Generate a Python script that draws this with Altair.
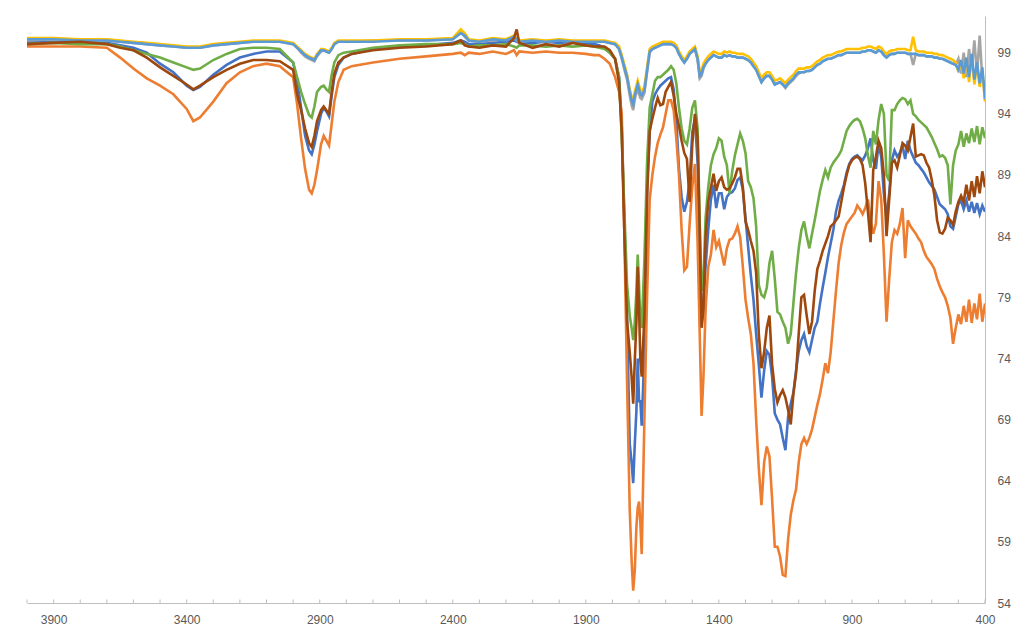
import altair as alt
import pandas as pd

# wavenumber grid (cm-1), rows of 10
wn = [
    4000, 3900, 3800, 3700, 3650, 3600, 3550, 3500, 3450, 3400,
    3375, 3350, 3300, 3250, 3200, 3150, 3100, 3050, 3000, 2985,
    2970, 2955, 2940, 2930, 2920, 2910, 2895, 2885, 2875, 2865,
    2855, 2845, 2830, 2810, 2780, 2700, 2600, 2500, 2400, 2370,
    2355, 2340, 2300, 2250, 2200, 2170, 2160, 2150, 2100, 2050,
    2000, 1950, 1900, 1870, 1850, 1830, 1810, 1790, 1775, 1765,
    1755, 1745, 1735, 1728, 1722, 1716, 1710, 1705, 1700, 1695,
    1690, 1680, 1670, 1660, 1650, 1640, 1630, 1620, 1610, 1600,
    1590, 1580, 1570, 1560, 1550, 1540, 1530, 1520, 1510, 1500,
    1490, 1480, 1472, 1465, 1458, 1450, 1440, 1430, 1420, 1410,
    1400, 1390, 1380, 1370, 1360, 1350, 1340, 1330, 1320, 1310,
    1300, 1290, 1280, 1270, 1260, 1250, 1240, 1230, 1220, 1210,
    1200, 1190, 1180, 1170, 1160, 1150, 1140, 1130, 1120, 1110,
    1100, 1090, 1080, 1070, 1060, 1050, 1040, 1030, 1020, 1010,
    1000, 990, 980, 970, 960, 950, 940, 930, 920, 910,
    900, 890, 880, 870, 860, 850, 840, 830, 820, 810,
    800, 790, 780, 770, 760, 750, 740, 730, 720, 710,
    700, 690, 680, 670, 660, 650, 640, 630, 620, 610,
    600, 590, 580, 570, 560, 550, 540, 530, 520, 510,
    500, 490, 480, 470, 460, 450, 440, 430, 420, 410,
    400,
]

blue = [
    99.9, 99.9, 99.9, 99.8, 99.6, 99.4, 99.0, 98.1, 97.4, 96.3,
    95.95, 96.2, 97.2, 98.0, 98.6, 98.9, 99.1, 99.1, 98.2, 96.7,
    94.5, 92.2, 91.0, 90.7, 91.5, 92.6, 94.0, 94.5, 94.2, 93.8,
    95.5, 97.0, 98.0, 98.6, 98.9, 99.3, 99.5, 99.6, 99.8, 100.0,
    99.9, 99.7, 99.7, 99.8, 99.9, 100.0, 99.9, 99.8, 99.8, 99.9,
    99.8, 99.9, 99.8, 99.7, 99.6, 99.4, 99.0, 98.5, 97.0, 93.0,
    85.0, 77.0, 67.0, 65.5, 63.8, 67.0, 69.7, 74.0, 70.5, 70.5,
    68.5, 74.5, 88.0, 92.5, 95.0, 95.6, 96.0, 96.3, 96.5, 96.7,
    96.9, 97.0, 96.0, 93.5, 89.5, 87.2, 86.0, 86.8, 88.5, 92.5,
    93.6, 90.0, 83.0, 76.8, 78.5, 81.5, 84.5, 87.0, 88.2, 86.3,
    87.5, 87.5, 86.2, 87.2, 87.5, 87.6, 87.9, 88.6, 88.8, 87.8,
    85.5, 83.1, 80.8, 78.8, 76.0, 73.5, 70.8, 73.0, 74.6, 74.3,
    72.5, 69.5, 69.0, 68.6, 67.5, 66.5, 69.2, 70.3, 71.2, 73.0,
    74.6, 75.5, 76.0, 75.0, 74.5, 75.5, 76.5, 77.0, 78.5, 79.8,
    81.0, 82.3, 83.4, 84.5, 86.0, 86.9, 87.5, 88.2, 89.2, 89.9,
    90.3, 90.5, 90.6, 90.4, 90.2, 90.6, 91.2, 92.0, 90.2, 89.5,
    91.5, 90.5, 87.5, 85.5, 87.5, 90.2, 91.0, 90.5, 90.8, 91.4,
    90.3, 91.8, 91.0, 90.5, 90.0, 89.8, 89.5, 89.2, 88.8, 88.4,
    88.1, 87.8, 87.2, 86.6, 86.4, 86.2, 85.8, 84.8, 84.6, 85.6,
    86.6, 86.9, 86.2, 86.9, 86.0, 86.8, 85.9, 86.7, 85.8, 86.5,
    86.0,
]

orange = [
    99.5, 99.5, 99.5, 99.4, 98.6, 97.7, 96.9, 96.3, 95.6, 94.4,
    93.4, 93.7, 95.0, 96.5, 97.4, 97.9, 98.1, 97.9, 97.0, 94.8,
    92.0, 89.5, 87.8, 87.5, 88.2, 89.4, 91.5, 92.2, 91.8, 91.4,
    93.2, 95.0, 96.6, 97.6, 97.9, 98.2, 98.5, 98.7, 98.9, 99.0,
    98.8, 99.0, 98.9, 99.1, 98.9, 99.2, 98.8, 99.1, 99.0, 99.1,
    99.0, 99.0, 98.9, 98.8, 98.8, 98.5, 98.1, 97.0, 95.8, 94.0,
    84.0, 72.0, 61.6, 57.5, 55.0, 56.7, 60.2, 61.8, 62.3, 60.5,
    58.0, 69.0, 79.0, 87.0, 89.0, 90.5, 91.6, 92.3, 92.9, 94.0,
    95.1, 95.1, 94.3, 92.0, 89.0, 84.5, 81.2, 81.5, 85.0, 88.0,
    89.9, 83.5, 76.0, 69.3, 72.5, 78.0, 81.5, 82.5, 84.5, 83.1,
    83.6, 82.6, 81.6, 83.0, 83.7, 83.8, 84.2, 84.8, 83.9, 81.5,
    78.8, 77.3, 76.0, 73.6, 69.0, 65.0, 62.0, 65.5, 66.8, 66.0,
    62.5, 58.6, 58.6, 57.8, 56.3, 56.2, 59.2, 61.2, 62.4, 63.3,
    65.5, 67.0, 67.5, 67.0, 67.5, 68.2, 69.2, 70.2, 71.1, 72.3,
    73.6, 72.8, 74.5, 77.0, 79.5, 81.8, 83.3, 84.3, 85.0, 85.3,
    85.6, 85.9, 86.5, 86.2, 85.8, 86.3, 87.0, 85.3, 84.2, 85.0,
    88.5, 87.0, 82.5, 77.0, 80.5, 83.5, 84.5, 84.2, 85.0, 86.3,
    82.2, 85.3, 84.8, 84.5, 84.2, 83.8, 83.5, 82.8, 82.3, 82.0,
    81.7, 81.3, 80.5, 79.9, 79.4, 79.0, 78.3, 77.3, 75.2, 76.5,
    77.6, 76.8, 78.3, 77.0, 78.8, 76.9, 78.5, 77.2, 79.3, 77.0,
    78.5,
]

gray = [
    100.0, 100.1, 100.0, 100.0, 99.9, 99.8, 99.7, 99.6, 99.5, 99.4,
    99.4, 99.4, 99.6, 99.7, 99.8, 99.9, 99.9, 99.9, 99.7, 99.4,
    99.0, 98.7, 98.5, 98.4, 98.3, 98.7, 99.1, 99.2, 99.1, 99.0,
    99.3, 99.7, 99.9, 99.9, 99.9, 100.0, 100.0, 100.0, 100.1, 100.7,
    100.3, 100.0, 99.9, 100.0, 100.1, 100.2, 100.0, 99.9, 100.0, 99.9,
    100.0, 99.9, 99.9, 99.9, 99.9, 99.9, 99.8, 99.7, 99.3, 98.5,
    97.6, 96.8, 95.5, 94.7, 94.3, 95.2, 95.8, 96.0, 95.6, 95.3,
    95.2, 95.7, 97.4, 99.0, 99.3, 99.4, 99.5, 99.6, 99.7, 99.7,
    99.7, 99.7, 99.6, 99.4, 98.9, 98.5, 98.2, 98.5, 98.9, 99.1,
    99.3, 98.4, 96.9, 97.1, 97.7, 98.1, 98.4, 98.6, 98.8, 98.7,
    98.6, 98.6, 98.8, 98.7, 98.8, 98.7, 98.7, 98.6, 98.6, 98.6,
    98.5, 98.4, 98.2, 97.9, 97.6, 97.1, 96.6, 96.9, 97.1, 97.1,
    96.8, 96.4, 96.5, 96.6, 96.4, 96.1, 96.4, 96.6, 96.8, 97.1,
    97.3, 97.4, 97.4, 97.5, 97.5, 97.6, 97.8, 98.0, 98.1, 98.3,
    98.4, 98.5, 98.5, 98.6, 98.7, 98.8, 98.8, 98.9, 99.0, 99.0,
    99.0, 99.0, 99.0, 99.0, 99.1, 99.1, 99.2, 99.2, 99.1, 99.0,
    99.2, 99.1, 98.8, 98.6, 98.8, 98.9, 98.9, 99.0, 99.0, 99.0,
    99.0, 98.9, 98.9, 98.0, 98.9, 98.8, 98.8, 98.8, 98.7, 98.7,
    98.7, 98.6, 98.6, 98.5, 98.5, 98.4, 98.3, 98.2, 98.1, 98.0,
    98.5, 97.3, 99.0, 97.0, 99.3, 97.6, 100.0, 97.2, 100.4, 96.8,
    96.5,
]

yellow = [
    100.2, 100.2, 100.1, 100.1, 100.0, 99.9, 99.8, 99.7, 99.6, 99.5,
    99.5, 99.5, 99.7, 99.8, 99.9, 100.0, 100.0, 100.0, 99.8, 99.5,
    99.2, 98.9, 98.7, 98.6, 98.5, 98.9, 99.3, 99.3, 99.2, 99.1,
    99.4, 99.8, 100.0, 100.0, 100.0, 100.0, 100.1, 100.1, 100.2, 100.9,
    100.6, 100.1, 100.0, 100.2, 100.1, 100.4, 100.2, 100.0, 100.1, 100.0,
    100.1, 100.0, 100.0, 100.0, 100.0, 100.0, 99.9, 99.8, 99.5, 98.8,
    98.0, 97.2, 96.0, 95.4, 95.1, 95.8, 96.3, 96.7, 96.3, 95.9,
    95.8, 96.2, 97.8, 99.3, 99.5, 99.6, 99.7, 99.8, 99.9, 99.9,
    99.9, 99.9, 99.8, 99.6, 99.1, 98.7, 98.4, 98.7, 99.1, 99.3,
    99.5, 98.7, 97.4, 97.6, 98.1, 98.4, 98.7, 98.9, 99.1, 99.0,
    98.9, 98.9, 99.1, 99.0, 99.1, 99.0, 99.0, 98.9, 98.9, 98.9,
    98.8, 98.7, 98.5, 98.2, 97.9, 97.4, 96.9, 97.2, 97.4, 97.4,
    97.1, 96.7, 96.8, 96.9, 96.7, 96.5, 96.8, 97.0, 97.2, 97.5,
    97.7, 97.7, 97.7, 97.8, 97.8, 97.9, 98.1, 98.3, 98.4, 98.6,
    98.7, 98.8, 98.8, 98.9, 99.0, 99.1, 99.1, 99.2, 99.3, 99.3,
    99.3, 99.3, 99.3, 99.3, 99.4, 99.4, 99.5, 99.5, 99.4, 99.3,
    99.5, 99.4, 99.1, 98.9, 99.1, 99.2, 99.2, 99.3, 99.3, 99.3,
    99.3, 99.2, 99.2, 100.3, 99.2, 99.1, 99.1, 99.1, 99.0, 99.0,
    99.0, 98.9, 98.9, 98.8, 98.8, 98.7, 98.6, 98.5, 98.4, 98.2,
    97.4, 98.3, 96.9, 98.5, 96.6, 98.7, 96.4, 98.0, 96.2, 97.5,
    95.0,
]

lightblue = [
    100.1, 100.1, 100.0, 100.0, 99.9, 99.8, 99.7, 99.6, 99.5, 99.4,
    99.4, 99.4, 99.6, 99.7, 99.8, 99.9, 99.9, 99.9, 99.7, 99.4,
    99.1, 98.8, 98.6, 98.5, 98.4, 98.8, 99.2, 99.2, 99.1, 99.0,
    99.3, 99.7, 99.9, 99.9, 99.9, 99.9, 100.0, 100.0, 100.1, 100.6,
    100.4, 100.0, 99.9, 100.1, 100.0, 100.3, 100.1, 99.9, 100.0, 99.9,
    100.0, 99.9, 99.9, 99.9, 99.9, 99.9, 99.8, 99.7, 99.3, 98.6,
    97.8, 97.0, 95.8, 95.1, 94.8, 95.5, 96.0, 96.4, 96.0, 95.6,
    95.5, 95.9, 97.5, 99.1, 99.3, 99.4, 99.5, 99.6, 99.7, 99.7,
    99.7, 99.7, 99.6, 99.4, 98.9, 98.5, 98.2, 98.5, 98.9, 99.1,
    99.3, 98.5, 97.1, 97.3, 97.8, 98.1, 98.4, 98.6, 98.8, 98.7,
    98.6, 98.6, 98.8, 98.7, 98.8, 98.7, 98.7, 98.6, 98.6, 98.6,
    98.5, 98.4, 98.2, 97.9, 97.6, 97.1, 96.6, 96.9, 97.1, 97.1,
    96.8, 96.4, 96.5, 96.6, 96.4, 96.2, 96.5, 96.7, 96.9, 97.2,
    97.4, 97.4, 97.4, 97.5, 97.5, 97.6, 97.8, 98.0, 98.1, 98.3,
    98.4, 98.5, 98.5, 98.6, 98.7, 98.8, 98.8, 98.9, 99.0, 99.0,
    99.0, 99.0, 99.0, 99.0, 99.1, 99.1, 99.2, 99.2, 99.1, 99.0,
    99.2, 99.1, 98.8, 98.6, 98.8, 98.9, 98.9, 99.0, 99.0, 99.0,
    99.0, 98.9, 98.9, 98.9, 98.9, 98.8, 98.8, 98.8, 98.7, 98.7,
    98.7, 98.6, 98.6, 98.5, 98.5, 98.4, 98.3, 98.2, 98.1, 98.0,
    97.6, 98.4, 97.3, 98.6, 97.0, 98.9, 96.8, 98.2, 96.5, 97.8,
    95.2,
]

green = [
    99.7, 99.8, 99.7, 99.7, 99.5, 99.2, 98.9, 98.6, 98.2, 97.8,
    97.6, 97.7, 98.4, 98.9, 99.3, 99.4, 99.4, 99.3, 98.2, 97.0,
    95.8, 94.8, 93.9, 93.7, 94.6, 95.8, 96.2, 96.3, 96.0, 95.8,
    97.2, 98.2, 98.8, 99.0, 99.1, 99.4, 99.6, 99.7, 99.7, 99.8,
    99.7, 99.5, 99.6, 99.6, 99.7, 99.5, 99.4, 99.6, 99.6, 99.5,
    99.6, 99.5, 99.6, 99.5, 99.4, 99.3, 99.0, 98.5, 97.0, 92.0,
    86.0, 80.0, 77.5, 76.5, 75.5, 77.0, 79.5, 82.5, 80.0, 76.8,
    76.5, 82.0, 90.0, 94.5, 95.6, 96.7, 97.0, 97.0, 97.2, 97.4,
    97.6, 97.9, 97.6, 96.5, 94.5, 92.8, 91.8, 91.5, 92.8, 94.5,
    95.1, 92.8, 85.0, 79.5, 80.5, 85.5, 88.0, 89.8, 90.7, 91.2,
    92.0, 91.8, 90.5, 89.8, 87.5, 89.3, 90.6, 91.5, 92.4, 91.8,
    90.8, 88.5, 88.0, 87.1, 84.8, 80.0, 79.2, 79.0, 79.8, 81.8,
    82.8, 80.5, 77.8, 77.6, 77.0, 76.5, 75.2, 76.0, 78.5, 81.0,
    83.0, 84.5, 85.2, 84.0, 83.0, 84.2, 85.3, 86.5, 87.7, 88.6,
    89.4, 88.8, 89.6, 90.0, 90.3, 90.6, 91.0, 91.8, 92.6, 93.0,
    93.3, 93.5, 93.6, 93.4, 92.8, 92.0, 90.6, 89.6, 92.6, 91.5,
    93.5, 94.8, 94.0, 89.0, 88.5, 94.3, 94.3, 94.8, 95.1, 95.3,
    95.2, 94.8, 95.1, 94.0, 93.8, 93.5, 93.3, 93.1, 92.9, 92.5,
    92.1, 91.6, 91.1, 90.5, 90.6, 90.4, 89.8, 86.6, 89.8, 91.0,
    91.5, 92.6, 91.3, 92.4, 91.6, 92.8, 91.7, 93.0, 91.5, 92.9,
    92.0,
]

brown = [
    99.7, 99.8, 99.9, 99.7, 99.4, 99.2, 98.6, 97.8, 97.1, 96.4,
    96.0, 96.3, 97.0, 97.6, 98.1, 98.4, 98.4, 98.3, 97.6, 95.6,
    94.3, 92.8, 91.6, 91.3, 92.2, 93.4, 94.3, 94.6, 94.3, 94.0,
    95.8, 97.3, 98.2, 98.6, 98.9, 99.2, 99.4, 99.5, 99.7, 100.0,
    99.6, 99.5, 99.4, 99.6, 99.5, 100.2, 100.9, 99.8, 99.4, 99.7,
    99.5, 99.8, 99.6, 99.5, 99.5, 99.5, 99.2, 98.5, 96.5, 92.5,
    84.0, 77.0, 74.5, 72.5, 70.3, 73.8, 77.0, 81.5, 78.0, 73.8,
    72.5, 77.5, 87.0, 92.6, 93.6, 94.5, 95.3, 94.7, 94.8, 95.8,
    96.2, 96.6, 95.5, 94.0, 93.0, 91.8, 90.8, 90.3, 86.8, 91.5,
    94.0, 92.0, 84.5, 76.5, 78.0, 84.0, 86.8, 88.0, 89.1, 87.7,
    88.5, 88.8, 88.0, 87.8, 87.9, 88.3, 88.8, 89.5, 89.5, 88.0,
    85.2, 84.5, 83.6, 82.8, 81.0, 76.0, 73.2, 74.5, 76.5, 77.5,
    73.5, 71.5, 70.4, 71.0, 71.4, 70.8, 69.8, 68.6, 71.1, 72.8,
    76.0, 79.0, 79.2, 77.5, 76.0, 77.0, 79.5, 81.3, 82.0, 82.8,
    83.4, 84.0, 84.8, 85.0, 85.3, 85.6, 86.8, 88.0, 89.0, 89.8,
    90.2, 90.4, 90.5, 90.3, 89.8, 88.3, 86.0, 83.5, 89.4, 90.5,
    91.8, 91.2, 89.0, 84.0, 87.0, 90.0, 90.2, 89.6, 90.6, 91.6,
    91.4, 91.0, 92.1, 93.2, 90.5, 90.6, 90.7, 90.6, 90.0, 89.6,
    88.6, 87.3, 85.3, 84.3, 84.2, 84.6, 85.5, 85.3, 84.9, 86.0,
    86.8, 87.3, 86.8, 88.2, 86.9, 88.5, 87.2, 88.9, 87.5, 89.3,
    88.0,
]

series_names = ["S1", "S2", "S3", "S4", "S5", "S6", "S7"]
series_values = [blue, orange, gray, yellow, lightblue, green, brown]
series_colors = ["#4472C4", "#ED7D31", "#A5A5A5", "#FFC000", "#5B9BD5", "#70AD47", "#9E480E"]

x_labels = [3900, 3400, 2900, 2400, 1900, 1400, 900, 400]
y_labels = [54, 59, 64, 69, 74, 79, 84, 89, 94, 99]
minor_ticks = list(range(400, 4001, 100))

rows = []
for name, vals in zip(series_names, series_values):
    assert len(vals) == len(wn), (name, len(vals), len(wn))
    for w, v in zip(wn, vals):
        rows.append({"wn": w, "T": v, "s": name})
df = pd.DataFrame(rows)

W, H = 958, 587
xscale = alt.Scale(domain=[400, 4000], reverse=True, nice=False, zero=False)
yscale = alt.Scale(domain=[54, 102], nice=False, zero=False)

x_axis = alt.Axis(values=x_labels, ticks=False, grid=False, title=None, format="d",
                  domainColor="#BFBFBF", domainWidth=1, labelColor="#595959",
                  labelFontSize=12, labelFont="Liberation Sans", labelPadding=11,
                  labelFlush=False)
y_axis = alt.Axis(values=y_labels, orient="right", ticks=False, grid=False, title=None,
                  format="d", domainColor="#BFBFBF", domainWidth=1, labelColor="#595959",
                  labelFontSize=12, labelFont="Liberation Sans", labelPadding=12,
                  labelFlush=False)

layers = []
for name, col in zip(series_names, series_colors):
    layers.append(
        alt.Chart(df[df.s == name]).mark_line(color=col, strokeWidth=2.6, clip=True)
        .encode(x=alt.X("wn:Q", scale=xscale, axis=x_axis),
                y=alt.Y("T:Q", scale=yscale, axis=y_axis))
    )

ticks_df = pd.DataFrame({"wn": minor_ticks})
tick_layer = alt.Chart(ticks_df).mark_rule(color="#BFBFBF", strokeWidth=1).encode(
    x=alt.X("wn:Q", scale=xscale, axis=x_axis),
    y=alt.value(H - 3.5),
    y2=alt.value(H),
)

chart = alt.layer(*layers, tick_layer).properties(
    width=W, height=H,
    autosize=alt.AutoSizeParams(type="none"),
    padding={"left": 19, "top": 8, "right": 27, "bottom": 24},
    background="white",
).configure_view(stroke=None)

chart.save("out.html", embed_options={"renderer": "svg", "actions": False})
